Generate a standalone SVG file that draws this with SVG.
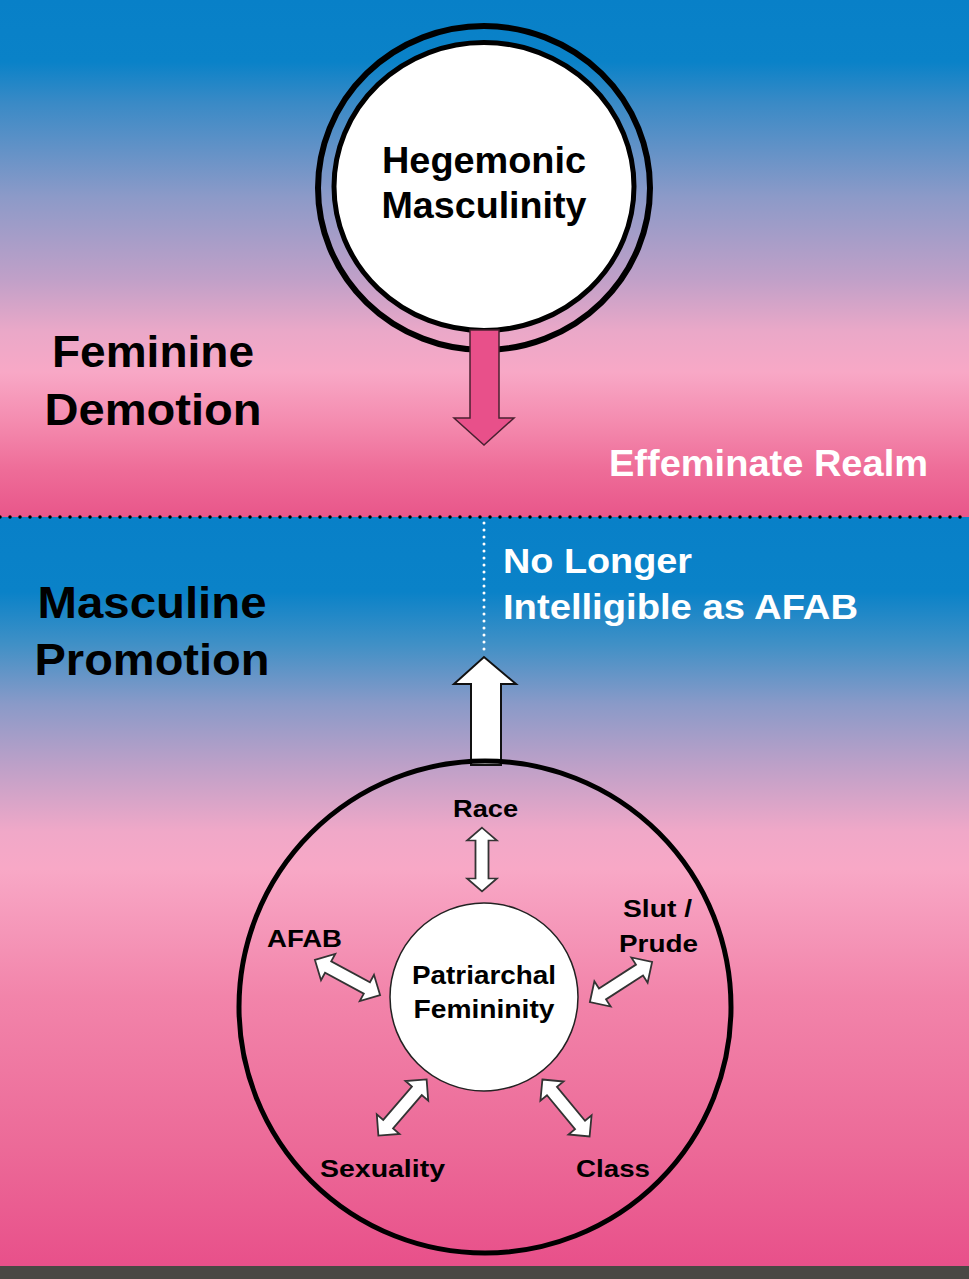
<svg xmlns="http://www.w3.org/2000/svg" width="969" height="1279" viewBox="0 0 969 1279">
<style>
.t{font-family:"Liberation Sans",Arial,sans-serif;font-weight:bold;}
.blk{fill:#000;}
.wht{fill:#fff;}
.dbl{fill:#fff;stroke:#333;stroke-width:1.8;stroke-linejoin:miter;}
</style>
<defs>
<linearGradient id="gTop" x1="0" y1="0" x2="0" y2="517" gradientUnits="userSpaceOnUse">
<stop offset="0" stop-color="#0880c8"/>
<stop offset="0.12" stop-color="#0a82c8"/>
<stop offset="0.2" stop-color="#3a8ac6"/>
<stop offset="0.38" stop-color="#8c9ac8"/>
<stop offset="0.54" stop-color="#c0a0c8"/>
<stop offset="0.64" stop-color="#eaa8c8"/>
<stop offset="0.72" stop-color="#f8a8c6"/>
<stop offset="0.82" stop-color="#f48aae"/>
<stop offset="0.91" stop-color="#ee6c98"/>
<stop offset="1" stop-color="#e8568a"/>
</linearGradient>
<linearGradient id="gBot" x1="0" y1="517" x2="0" y2="1266" gradientUnits="userSpaceOnUse">
<stop offset="0" stop-color="#0880c8"/>
<stop offset="0.1" stop-color="#0a82c8"/>
<stop offset="0.17" stop-color="#4090c6"/>
<stop offset="0.25" stop-color="#8a9ac8"/>
<stop offset="0.33" stop-color="#bca0c8"/>
<stop offset="0.42" stop-color="#f0a8c8"/>
<stop offset="0.47" stop-color="#f8a8c6"/>
<stop offset="0.64" stop-color="#f284aa"/>
<stop offset="0.84" stop-color="#ec6a98"/>
<stop offset="1" stop-color="#e8508a"/>
</linearGradient>
<path id="dbl74" d="M-37,0 L-22,-15 L-22,-6.5 L22,-6.5 L22,-15 L37,0 L22,15 L22,6.5 L-22,6.5 L-22,15 Z"/>
</defs>

<rect x="0" y="0" width="969" height="517" fill="url(#gTop)"/>
<rect x="0" y="517" width="969" height="749" fill="url(#gBot)"/>
<rect x="0" y="1266" width="969" height="13" fill="#4a4844"/>

<g id="section-labels">
<text class="t blk" x="153" y="367" font-size="45" text-anchor="middle" textLength="202" lengthAdjust="spacingAndGlyphs">Feminine</text>
<text class="t blk" x="153" y="425" font-size="45" text-anchor="middle" textLength="217" lengthAdjust="spacingAndGlyphs">Demotion</text>
<text class="t wht" x="609" y="476" font-size="36" textLength="319" lengthAdjust="spacingAndGlyphs">Effeminate Realm</text>
<text class="t blk" x="152" y="618" font-size="44" text-anchor="middle" textLength="229" lengthAdjust="spacingAndGlyphs">Masculine</text>
<text class="t blk" x="152" y="675" font-size="44" text-anchor="middle" textLength="235" lengthAdjust="spacingAndGlyphs">Promotion</text>
<text class="t wht" x="503" y="573" font-size="35" textLength="189" lengthAdjust="spacingAndGlyphs">No Longer</text>
<text class="t wht" x="503" y="619" font-size="35" textLength="355" lengthAdjust="spacingAndGlyphs">Intelligible as AFAB</text>
</g>

<g id="connectors">
<line x1="0" y1="517" x2="969" y2="517" stroke="#000" stroke-width="3.5" stroke-linecap="round" stroke-dasharray="0 10"/>
<line x1="484" y1="523" x2="484" y2="655" stroke="#fff" stroke-width="3" stroke-linecap="round" stroke-dasharray="0 7"/>
<polygon points="471,765 471,684 454,684 484,657 516,684 501,684 501,765" fill="#fff" stroke="#111" stroke-width="2"/>
<g class="dbl">
<path transform="translate(482,859.5) rotate(90) scale(0.86,1)" d="M-37,0 L-22,-15 L-22,-6.5 L22,-6.5 L22,-15 L37,0 L22,15 L22,6.5 L-22,6.5 L-22,15 Z"/>
<use href="#dbl74" transform="translate(347.5,977.5) rotate(28.3)"/>
<use href="#dbl74" transform="translate(621,982) rotate(-32.8)"/>
<use href="#dbl74" transform="translate(402.5,1107.5) rotate(-49.3)"/>
<use href="#dbl74" transform="translate(566,1108) rotate(50.4)"/>
</g>
</g>

<g id="hegemonic-masculinity">
<ellipse cx="484" cy="188" rx="166" ry="162" fill="none" stroke="#000" stroke-width="6"/>
<ellipse cx="484" cy="186.5" rx="150" ry="144" fill="#fff" stroke="#000" stroke-width="5"/>
<text class="t blk" x="484" y="173" font-size="36" text-anchor="middle" textLength="204" lengthAdjust="spacingAndGlyphs">Hegemonic</text>
<text class="t blk" x="484" y="218" font-size="36" text-anchor="middle" textLength="205" lengthAdjust="spacingAndGlyphs">Masculinity</text>
</g>

<g id="down-arrow">
<polygon points="470,330 499,330 499,418 514,418 484,445 454,418 470,418" fill="#e8508a" stroke="#4a2030" stroke-width="1.5"/>
</g>

<g id="outer-circle">
<circle cx="485" cy="1007" r="246" fill="none" stroke="#000" stroke-width="5"/>
</g>

<g id="patriarchal-femininity">
<circle cx="484" cy="997" r="94" fill="#fff" stroke="#222" stroke-width="1.5"/>
<text class="t blk" x="484" y="984" font-size="25" text-anchor="middle" textLength="144" lengthAdjust="spacingAndGlyphs">Patriarchal</text>
<text class="t blk" x="484" y="1018" font-size="25" text-anchor="middle" textLength="141" lengthAdjust="spacingAndGlyphs">Femininity</text>
</g>

<g id="race"><text class="t blk" x="485.5" y="817" font-size="24" text-anchor="middle" textLength="65" lengthAdjust="spacingAndGlyphs">Race</text></g>
<g id="afab"><text class="t blk" x="304.5" y="947" font-size="24" text-anchor="middle" textLength="75" lengthAdjust="spacingAndGlyphs">AFAB</text></g>
<g id="slut-prude">
<text class="t blk" x="657.5" y="917" font-size="24" text-anchor="middle" textLength="69" lengthAdjust="spacingAndGlyphs">Slut /</text>
<text class="t blk" x="658.5" y="952" font-size="24" text-anchor="middle" textLength="79" lengthAdjust="spacingAndGlyphs">Prude</text>
</g>
<g id="sexuality"><text class="t blk" x="382.5" y="1177" font-size="24" text-anchor="middle" textLength="125" lengthAdjust="spacingAndGlyphs">Sexuality</text></g>
<g id="class"><text class="t blk" x="613" y="1177" font-size="24" text-anchor="middle" textLength="74" lengthAdjust="spacingAndGlyphs">Class</text></g>
</svg>
